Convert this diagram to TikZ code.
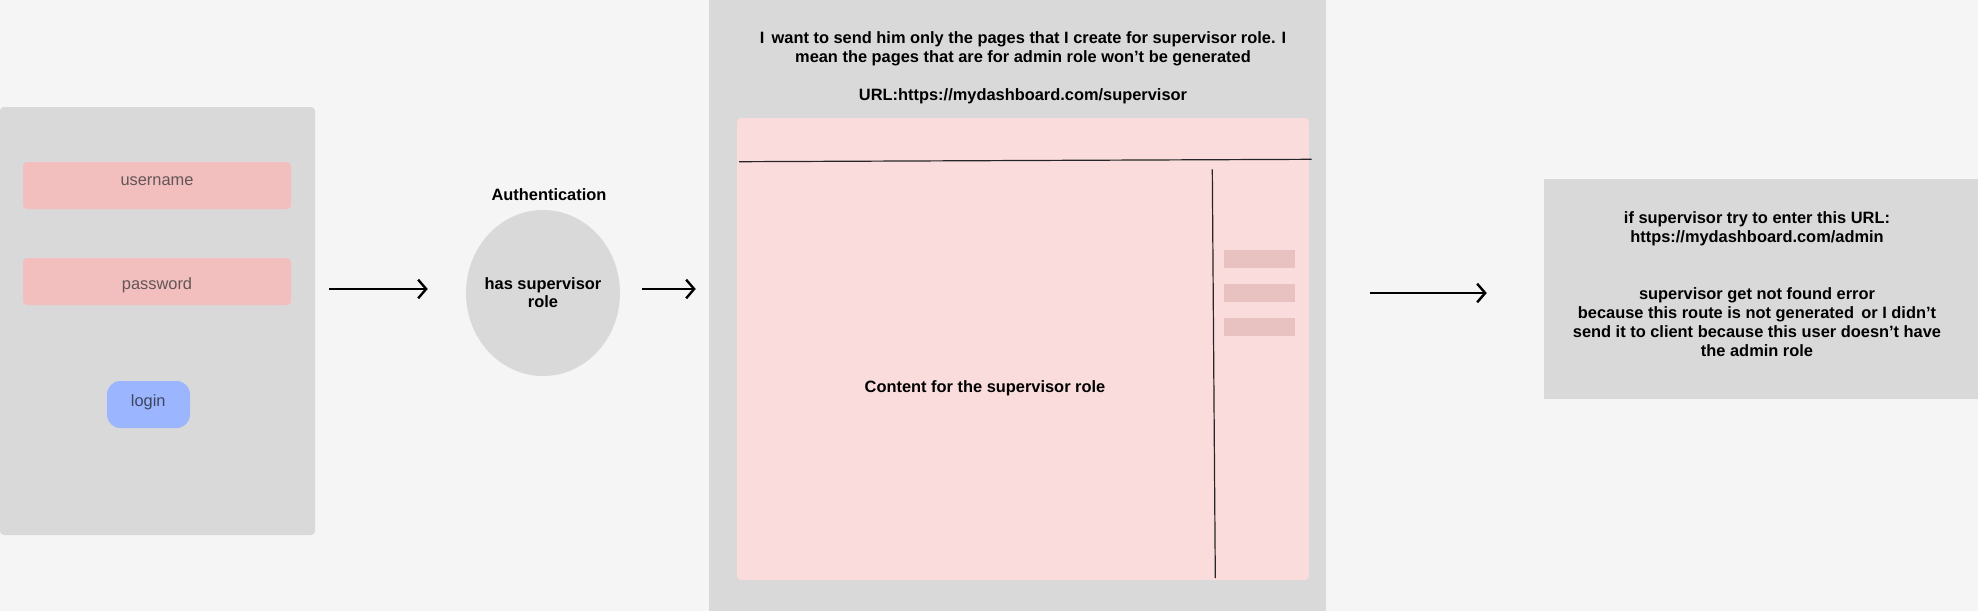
\documentclass[tikz,border=0pt]{standalone}
\usepackage{fontspec}
\setmainfont{Liberation Sans}
\usetikzlibrary{shapes.geometric,arrows.meta}
\definecolor{bgcol}{HTML}{F5F5F5}
\definecolor{panelgray}{HTML}{D9D9D9}
\definecolor{fieldpink}{HTML}{F2BEBE}
\definecolor{btnblue}{HTML}{9BB6FF}
\definecolor{pagepink}{HTML}{FADCDD}
\definecolor{menupink}{HTML}{E8C1C1}
\definecolor{fieldtext}{HTML}{625656}
\definecolor{btntext}{HTML}{3C4660}
\tikzset{
  panel/.style    = {shape=rectangle, fill=panelgray, inner sep=0pt},
  field/.style    = {shape=rectangle, rounded corners=3pt, fill=fieldpink, inner sep=0pt,
                     minimum width=201pt, minimum height=35.25pt},
  button/.style   = {shape=rectangle, rounded corners=10pt, fill=btnblue, inner sep=0pt,
                     minimum width=62.25pt, minimum height=35.25pt},
  menuitem/.style = {shape=rectangle, fill=menupink, inner sep=0pt,
                     minimum width=53.25pt, minimum height=13.3pt},
  hint/.style     = {font=\fontsize{12.3}{14.2}\selectfont, text=fieldtext, inner sep=0pt, anchor=base},
  note/.style     = {font=\fontsize{12.3}{14.2}\selectfont\bfseries, align=center, inner sep=0pt},
  flow/.style     = {-{Straight Barb[length=6pt,width=14pt]}, line width=1.8pt},
  rule/.style     = {line width=0.9pt, black!85}
}
\begin{document}
\begin{tikzpicture}[x=0.75pt,y=-0.75pt]
  \fill[bgcol] (0,0) rectangle (1978,611);
  \useasboundingbox (0,0) rectangle (1978,611);

  \node[panel, rounded corners=3pt, minimum width=236.25pt, minimum height=321pt] (loginpanel) at (157.5,321) {};
  \node[field] (username) at (157,185.5) {};
  \node[field] (password) at (157,281.5) {};
  \node[button] (loginbtn) at (148.5,404.5) {};
  \node[hint] (usernametext) at (157,185.7) {username};
  \node[hint] (passwordtext) at (157,289.3) {password};
  \node[hint, text=btntext] (logintext) at (148.3,406) {login};

  \node[note, anchor=base] (authtitle) at (549,200.7) {Authentication};
  \node[shape=ellipse, fill=panelgray, inner sep=0pt, minimum width=115.5pt, minimum height=124.5pt]
    (auth) at (543,293) {};
  \node[note] (authtext) at (543,292.6) {has supervisor\\role};

  \node[panel, minimum width=462.75pt, minimum height=458.25pt] (pagepanel) at (1017.5,305.5) {};
  \node[note] (pagenote) at (1023,67.6)
    {I\, want to send him only the pages that I create for supervisor role. I\\
     mean the pages that are for admin role won’t be generated\\[14.2pt]
     URL:https://mydashboard.com/supervisor};
  \node[shape=rectangle, rounded corners=3pt, fill=pagepink, inner sep=0pt,
        minimum width=429pt, minimum height=346.5pt] (page) at (1023,349) {};
  \draw[rule] (739,161.7) -- (1311.7,159.3);
  \draw[rule] (1212.3,169.3) -- (1215.3,578);
  \foreach \i/\y in {1/258.8, 2/292.8, 3/326.8}
    \node[menuitem] (menu\i) at (1259.5,\y) {};
  \node[note, anchor=base] (content) at (985,392.3) {Content for the supervisor role};

  \node[panel, minimum width=325.5pt, minimum height=165pt] (errpanel) at (1761,289) {};
  \node[note] (errnote) at (1757,284.2)
    {if supervisor try to enter this URL:\\
     https://mydashboard.com/admin\\[28.4pt]
     supervisor get not found error\\
     because this route is not generated\, or I didn’t\\
     send it to client because this user doesn’t have\\
     the admin role};

  \draw[flow, shorten <=10.5pt, shorten >=28.5pt] ([yshift=3pt]loginpanel.east |- auth) -- ([yshift=3pt]auth.west);
  \draw[flow, shorten <=16.5pt, shorten >=9.75pt] ([yshift=3pt]auth.east) -- ([yshift=3pt]auth.east -| pagepanel.west);
  \draw[flow, shorten <=32.6pt, shorten >=42.75pt] ([yshift=-3pt]pagepanel.east |- errpanel) -- ([yshift=-3pt]errpanel.west);
\end{tikzpicture}
\end{document}
